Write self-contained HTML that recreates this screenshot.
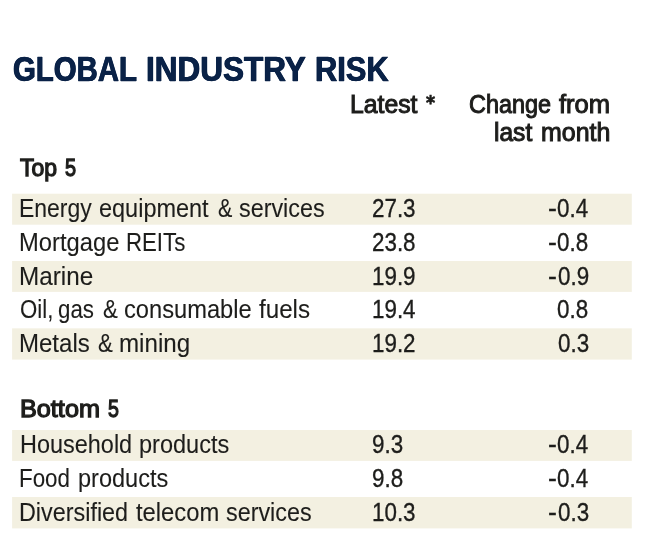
<!DOCTYPE html>
<html lang="en">
<head>
<meta charset="utf-8">
<title>Global industry risk</title>
<style>
html,body{margin:0;padding:0;background:#fff;}
body{width:652px;height:536px;position:relative;overflow:hidden;font-family:"Liberation Sans",Arial,Helvetica,sans-serif;color:#1d1d1b;}
#w{position:absolute;left:0;top:0;width:652px;height:536px;will-change:transform;}
#bands{position:absolute;left:0;top:0;}
h1,h2,p{margin:0;padding:0;font-size:inherit;font-weight:inherit;}
.ln{position:absolute;left:0;white-space:nowrap;font-size:0;line-height:0;}
.t{display:inline-block;position:relative;vertical-align:top;width:0;white-space:nowrap;line-height:1;transform-origin:0 0;font-weight:400;}
.ti{font-weight:700;font-size:35.75px;color:#0a2247;-webkit-text-stroke:0.30px #0a2247;text-shadow:0.50px 0 0 #0a2247,-0.50px 0 0 #0a2247;}
.hd{font-size:24.90px;-webkit-text-stroke:1.00px #1d1d1b;}
.sec{font-size:24.50px;-webkit-text-stroke:1.30px #1d1d1b;}
.row{font-size:25.40px;-webkit-text-stroke:0.10px #1d1d1b;}
.num{font-size:25.40px;-webkit-text-stroke:0.35px #1d1d1b;}
</style>
</head>
<body>
<div id="w">
<svg id="bands" width="652" height="536" aria-hidden="true">
<rect x="12.1" y="193.70" width="619.7" height="31.00" fill="#f3f0e1"/>
<rect x="12.1" y="261.00" width="619.7" height="30.90" fill="#f3f0e1"/>
<rect x="12.1" y="328.35" width="619.7" height="31.25" fill="#f3f0e1"/>
<rect x="12.1" y="430.00" width="619.7" height="30.90" fill="#f3f0e1"/>
<rect x="12.1" y="497.00" width="619.7" height="31.40" fill="#f3f0e1"/>
</svg>
<h1 class="ln" style="top:52.00px"><span class="t ti" style="left:13.31px;transform:scaleX(0.8212);">GLOBAL</span> <span class="t ti" style="left:146.41px;transform:scaleX(0.8808);">INDUSTRY</span> <span class="t ti" style="left:314.54px;transform:scaleX(0.8622);">RISK</span></h1>
<p class="ln" style="top:92.00px"><span class="t hd" style="left:350.01px;transform:scaleX(0.9942);">Latest</span> <span class="t" style="left:426.12px;top:1.26px;transform:scaleX(0.9148);font-size:19.00px;font-weight:700;-webkit-text-stroke:0.70px #1d1d1b;font-family:'DejaVu Sans',sans-serif;">*</span></p>
<p class="ln" style="top:92.00px"><span class="t hd" style="left:469.03px;transform:scaleX(0.9392);">Change</span> <span class="t hd" style="left:558.81px;transform:scaleX(1.0270);">from</span> <span class="t hd" style="left:493.51px;top:28.00px;transform:scaleX(0.9867);">last</span> <span class="t hd" style="left:540.70px;top:28.00px;transform:scaleX(1.0024);">month</span></p>
<h2 class="ln" style="top:156.00px"><span class="t sec" style="left:20.31px;transform:scaleX(0.9384);">Top</span> <span class="t sec" style="left:65.13px;transform:scaleX(0.8112);">5</span></h2>
<p class="ln" style="top:196.00px"><span class="t row" style="left:19.44px;transform:scaleX(0.9042);">Energy</span> <span class="t row" style="left:99.12px;transform:scaleX(0.9246);">equipment</span> <span class="t row" style="left:218.04px;transform:scaleX(0.8480);">&amp;</span> <span class="t row" style="left:239.30px;transform:scaleX(0.9187);">services</span></p>
<p class="ln" style="top:230.00px"><span class="t row" style="left:19.38px;transform:scaleX(0.9358);">Mortgage</span> <span class="t row" style="left:126.29px;transform:scaleX(0.8753);">REITs</span></p>
<p class="ln" style="top:264.00px"><span class="t row" style="left:19.34px;transform:scaleX(0.9559);">Marine</span></p>
<p class="ln" style="top:297.00px"><span class="t row" style="left:19.67px;transform:scaleX(0.8753);">Oil,</span> <span class="t row" style="left:58.42px;transform:scaleX(0.8769);">gas</span> <span class="t row" style="left:103.04px;transform:scaleX(0.8772);">&amp;</span> <span class="t row" style="left:124.11px;transform:scaleX(0.9323);">consumable</span> <span class="t row" style="left:258.80px;transform:scaleX(0.9522);">fuels</span></p>
<p class="ln" style="top:331.00px"><span class="t row" style="left:19.36px;transform:scaleX(0.9461);">Metals</span> <span class="t row" style="left:97.54px;transform:scaleX(0.8772);">&amp;</span> <span class="t row" style="left:119.10px;transform:scaleX(0.9509);">mining</span></p>
<h2 class="ln" style="top:397.00px"><span class="t sec" style="left:19.61px;transform:scaleX(1.0297);">Bottom</span> <span class="t sec" style="left:107.82px;transform:scaleX(0.8007);">5</span></h2>
<p class="ln" style="top:432.00px"><span class="t row" style="left:19.60px;transform:scaleX(0.9237);">Household</span> <span class="t row" style="left:139.12px;transform:scaleX(0.9265);">products</span></p>
<p class="ln" style="top:466.00px"><span class="t row" style="left:19.48px;transform:scaleX(0.8806);">Food</span> <span class="t row" style="left:77.87px;transform:scaleX(0.9265);">products</span></p>
<p class="ln" style="top:500.00px"><span class="t row" style="left:19.41px;transform:scaleX(0.9203);">Diversified</span> <span class="t row" style="left:135.80px;transform:scaleX(0.9362);">telecom</span> <span class="t row" style="left:225.55px;transform:scaleX(0.9187);">services</span></p>
<p class="ln" style="top:196.00px"><span class="t num" style="left:371.77px;transform:scaleX(0.8815);">27.3</span></p>
<p class="ln" style="top:230.00px"><span class="t num" style="left:371.77px;transform:scaleX(0.8815);">23.8</span></p>
<p class="ln" style="top:264.00px"><span class="t num" style="left:371.77px;transform:scaleX(0.8815);">19.9</span></p>
<p class="ln" style="top:297.00px"><span class="t num" style="left:371.77px;transform:scaleX(0.8815);">19.4</span></p>
<p class="ln" style="top:331.00px"><span class="t num" style="left:371.77px;transform:scaleX(0.8815);">19.2</span></p>
<p class="ln" style="top:432.00px"><span class="t num" style="left:371.77px;transform:scaleX(0.8815);">9.3</span></p>
<p class="ln" style="top:466.00px"><span class="t num" style="left:371.77px;transform:scaleX(0.8815);">9.8</span></p>
<p class="ln" style="top:500.00px"><span class="t num" style="left:371.77px;transform:scaleX(0.8815);">10.3</span></p>
<p class="ln" style="top:196.00px"><span class="t num" style="left:548.14px;transform:scaleX(1.0476);">-</span><span class="t num" style="left:557.14px;transform:scaleX(0.8815);">0.4</span></p>
<p class="ln" style="top:230.00px"><span class="t num" style="left:548.14px;transform:scaleX(1.0476);">-</span><span class="t num" style="left:557.14px;transform:scaleX(0.8815);">0.8</span></p>
<p class="ln" style="top:264.00px"><span class="t num" style="left:548.14px;transform:scaleX(1.0476);">-</span><span class="t num" style="left:558.02px;transform:scaleX(0.8815);">0.9</span></p>
<p class="ln" style="top:297.00px"><span class="t num" style="left:557.14px;transform:scaleX(0.8815);">0.8</span></p>
<p class="ln" style="top:331.00px"><span class="t num" style="left:558.02px;transform:scaleX(0.8815);">0.3</span></p>
<p class="ln" style="top:432.00px"><span class="t num" style="left:548.14px;transform:scaleX(1.0476);">-</span><span class="t num" style="left:557.14px;transform:scaleX(0.8815);">0.4</span></p>
<p class="ln" style="top:466.00px"><span class="t num" style="left:548.14px;transform:scaleX(1.0476);">-</span><span class="t num" style="left:557.14px;transform:scaleX(0.8815);">0.4</span></p>
<p class="ln" style="top:500.00px"><span class="t num" style="left:548.14px;transform:scaleX(1.0476);">-</span><span class="t num" style="left:558.02px;transform:scaleX(0.8815);">0.3</span></p>
</div>
</body>
</html>
